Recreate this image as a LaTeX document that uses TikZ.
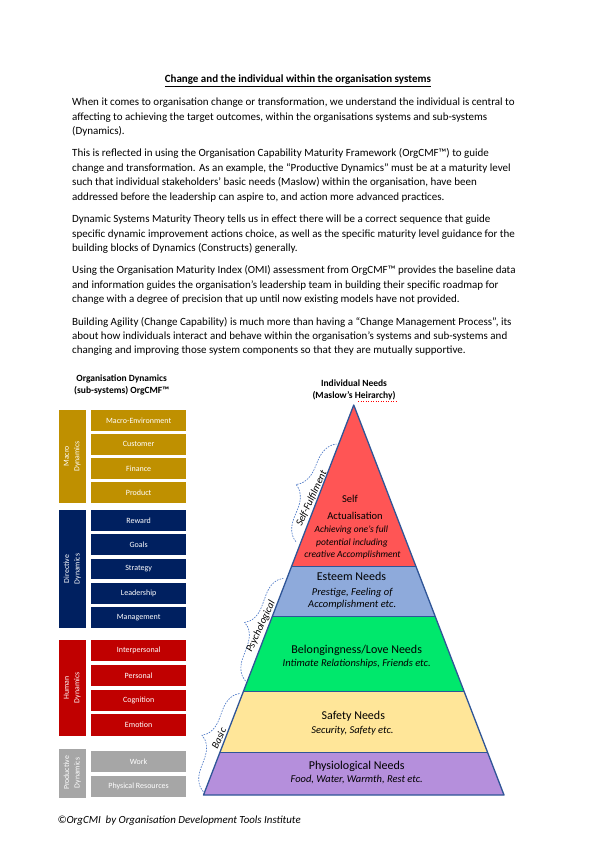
\documentclass[tikz,border=0pt]{standalone}
\usepackage{fontspec}
\setmainfont{Carlito}
\usetikzlibrary{calc,decorations.pathreplacing}
\definecolor{gold}{HTML}{BF9000}
\definecolor{navy}{HTML}{002060}
\definecolor{hred}{HTML}{C00000}
\definecolor{pgray}{HTML}{A6A6A6}
\definecolor{pyline}{HTML}{2F5597}
\definecolor{bracec}{HTML}{4472C4}
\definecolor{selfc}{HTML}{FF5555}
\definecolor{esteemc}{HTML}{8EAADB}
\definecolor{belongc}{HTML}{00E86C}
\definecolor{safetyc}{HTML}{FFE699}
\definecolor{physc}{HTML}{B58FDC}
\begin{document}
\begin{tikzpicture}[x=1pt,y=-1pt,
  txt/.style={anchor=base west,inner sep=0pt,font=\fontsize{11}{13}\selectfont},
  sbox/.style={inner sep=0pt,minimum width=94.7pt,minimum height=20.6pt,text=white,font=\fontsize{8}{9}\selectfont},
  gbar/.style={inner sep=0pt,rotate=90,minimum height=26.7pt,text=white,align=center,font=\fontsize{7.8}{10.5}\selectfont},
  hd/.style={inner sep=0pt,align=center,font=\bfseries\fontsize{9.5}{12}\selectfont},
  ptitle/.style={anchor=base,inner sep=0pt,font=\fontsize{12}{14}\selectfont},
  pital/.style={anchor=base,inner sep=0pt,font=\itshape\fontsize{10.5}{12}\selectfont},
  blabel/.style={inner sep=0pt,rotate=65,font=\itshape\fontsize{10.3}{12}\selectfont},
  bracestyle/.style={bracec,line width=0.6pt,dash pattern=on 1.6pt off 1.2pt,decorate,decoration={brace,amplitude=#1}}
]
\fill[white] (0,0) rectangle (595,842);
\useasboundingbox (0,0) rectangle (595,842);

% ---------- text ----------
\node[anchor=base,inner sep=0pt,font=\bfseries\fontsize{11}{13}\selectfont] (title) at (297.8,83) {\underline{Change and the individual within the organisation systems}};

\node[txt] (p1a) at (72,106) {When it comes to organisation change or transformation, we understand the individual is central to};
\node[txt] (p1b) at (72,120.4) {affecting to achieving the target outcomes, within the organisations systems and sub-systems};
\node[txt] (p1c) at (72,134.8) {(Dynamics).};

\node[txt] (p2a) at (72,157) {This is reflected in using the Organisation Capability Maturity Framework (OrgCMF™) to guide};
\node[txt] (p2b) at (72,171.4) {change and transformation. As an example, the “Productive Dynamics” must be at a maturity level};
\node[txt] (p2c) at (72,185.8) {such that individual stakeholders’ basic needs (Maslow) within the organisation, have been};
\node[txt] (p2d) at (72,200.2) {addressed before the leadership can aspire to, and action more advanced practices.};

\node[txt] (p3a) at (72,222.6) {Dynamic Systems Maturity Theory tells us in effect there will be a correct sequence that guide};
\node[txt] (p3b) at (72,237) {specific dynamic improvement actions choice, as well as the specific maturity level guidance for the};
\node[txt] (p3c) at (72,251.4) {building blocks of Dynamics (Constructs) generally.};

\node[txt] (p4a) at (72,273.6) {Using the Organisation Maturity Index (OMI) assessment from OrgCMF™ provides the baseline data};
\node[txt] (p4b) at (72,288) {and information guides the organisation’s leadership team in building their specific roadmap for};
\node[txt] (p4c) at (72,302.4) {change with a degree of precision that up until now existing models have not provided.};

\node[txt] (p5a) at (72,325) {Building Agility (Change Capability) is much more than having a “Change Management Process”, its};
\node[txt] (p5b) at (72,339.4) {about how individuals interact and behave within the organisation’s systems and sub-systems and};
\node[txt] (p5c) at (72,353.8) {changing and improving those system components so that they are mutually supportive.};

% ---------- left panel ----------
\node[hd] (lhead) at (121.7,385) {Organisation Dynamics\\(sub-systems) OrgCMF™};

\node[gbar,fill=gold,minimum width=92.9pt] (macro) at (72.35,456.45) {Macro\\Dynamics};
\node[sbox,fill=gold] (menv) at (138.65,420.3) {Macro-Environment};
\node[sbox,fill=gold] (cust) at (138.65,444.4) {Customer};
\node[sbox,fill=gold] (fin) at (138.65,468.5) {Finance};
\node[sbox,fill=gold] (prod) at (138.65,492.6) {Product};

\node[gbar,fill=navy,minimum width=118pt] (direct) at (72.35,569) {Directive\\Dynamics};
\node[sbox,fill=navy] (rew) at (138.65,520.3) {Reward};
\node[sbox,fill=navy] (goals) at (138.65,544.65) {Goals};
\node[sbox,fill=navy] (strat) at (138.65,569) {Strategy};
\node[sbox,fill=navy] (lead) at (138.65,593.35) {Leadership};
\node[sbox,fill=navy] (mgmt) at (138.65,617.7) {Management};

\node[gbar,fill=hred,minimum width=95.6pt] (human) at (72.35,687.8) {Human\\Dynamics};
\node[sbox,fill=hred,minimum height=21.2pt] (inter) at (138.65,650.6) {Interpersonal};
\node[sbox,fill=hred,minimum height=21.2pt] (pers) at (138.65,675.4) {Personal};
\node[sbox,fill=hred,minimum height=21.2pt] (cogn) at (138.65,700.2) {Cognition};
\node[sbox,fill=hred,minimum height=21.2pt] (emot) at (138.65,725) {Emotion};

\node[gbar,fill=pgray,minimum width=49pt] (prodd) at (72.35,773) {Productive\\Dynamics};
\node[sbox,fill=pgray,minimum height=21pt] (work) at (138.65,761.5) {Work};
\node[sbox,fill=pgray,minimum height=21pt] (phys) at (138.65,786) {Physical Resources};

% ---------- pyramid ----------
\node[hd] (rhead) at (354,390) {Individual Needs\\(Maslow’s Heirarchy)};
\draw[red,line width=0.5pt,dotted] (358,401.5) -- (396,401.5);

\coordinate (apex) at (353.75,405);
\coordinate (bl) at (203.5,795);
\coordinate (br) at (504,795);
\coordinate (l1) at ($(apex)!0.41410!(bl)$);
\coordinate (r1) at ($(apex)!0.41410!(br)$);
\coordinate (l2) at ($(apex)!0.54103!(bl)$);
\coordinate (r2) at ($(apex)!0.54103!(br)$);
\coordinate (l3) at ($(apex)!0.73333!(bl)$);
\coordinate (r3) at ($(apex)!0.73333!(br)$);
\coordinate (l4) at ($(apex)!0.89154!(bl)$);
\coordinate (r4) at ($(apex)!0.89154!(br)$);

\fill[selfc] (apex) -- (l1) -- (r1) -- cycle;
\fill[esteemc] (l1) -- (l2) -- (r2) -- (r1) -- cycle;
\fill[belongc] (l2) -- (l3) -- (r3) -- (r2) -- cycle;
\fill[safetyc] (l3) -- (l4) -- (r4) -- (r3) -- cycle;
\fill[physc] (l4) -- (bl) -- (br) -- (r4) -- cycle;
\draw[pyline,line width=1pt] (l1) -- (r1) (l2) -- (r2) (l3) -- (r3) (l4) -- (r4);
\draw[pyline,line width=1.3pt,line join=round] (apex) -- (bl) -- (br) -- cycle;

\node[anchor=base,inner sep=0pt,font=\fontsize{10.5}{12}\selectfont] (selft) at (350,502) {Self};
\node[anchor=base,inner sep=0pt,font=\fontsize{10.5}{12}\selectfont] (actt) at (355,519.5) {Actualisation};
\node[anchor=base,inner sep=0pt,font=\itshape\fontsize{9.5}{11}\selectfont] (selfi1) at (351.3,532.5) {Achieving one’s full};
\node[anchor=base,inner sep=0pt,font=\itshape\fontsize{9.5}{11}\selectfont] (selfi2) at (352,545) {potential including};
\node[anchor=base,inner sep=0pt,font=\itshape\fontsize{9.5}{11}\selectfont] (selfi3) at (352.5,557.5) {creative Accomplishment};

\node[ptitle] (estt) at (351.5,580.7) {Esteem Needs};
\node[pital] (esti1) at (352.2,595) {Prestige, Feeling of};
\node[pital] (esti2) at (352.2,607.6) {Accomplishment etc.};

\node[ptitle] (belt) at (356.7,653.3) {Belongingness/Love Needs};
\node[pital] (beli) at (356.7,666.7) {Intimate Relationships, Friends etc.};

\node[ptitle] (saft) at (353.3,719) {Safety Needs};
\node[pital] (safi) at (352.5,733.5) {Security, Safety etc.};

\node[ptitle] (phyt) at (356.7,769) {Physiological Needs};
\node[pital] (phyi) at (356.7,782.8) {Food, Water, Warmth, Rest etc.};

% ---------- braces ----------
\coordinate (sfb) at (296,541.7);
\coordinate (sft) at (336.7,444);
\coordinate (psb) at (245.5,681);
\coordinate (pst) at (283.3,578.3);
\coordinate (bab) at (203.3,791.7);
\coordinate (bat) at (240,693.3);
\draw[bracestyle=22pt] (sfb) -- (sft);
\draw[bracestyle=21pt] (psb) -- (pst);
\draw[bracestyle=21pt] (bab) -- (bat);
\node[blabel] (sflab) at (311.5,498.5) {Self-Fulfilment};
\node[blabel] (pslab) at (261,626.5) {Psychological};
\node[blabel] (balab) at (218.8,738.3) {Basic};

% ---------- footer ----------
\node[anchor=base west,inner sep=0pt,font=\itshape\fontsize{10.9}{12}\selectfont] (foot) at (57.3,823.5) {©OrgCMI~ by Organisation Development Tools Institute};
\end{tikzpicture}
\end{document}
